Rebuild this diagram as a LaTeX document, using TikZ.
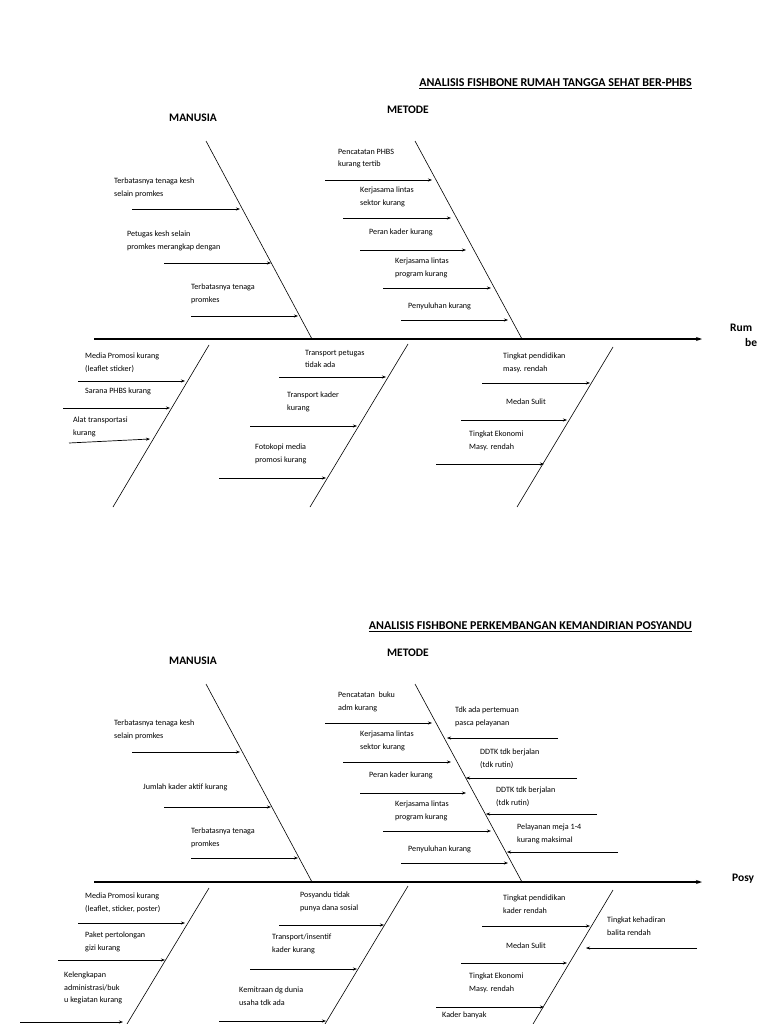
\documentclass[tikz,border=0pt]{standalone}
\usepackage{fontspec}
\setmainfont{Carlito}
\usetikzlibrary{arrows.meta}
\begin{document}
\begin{tikzpicture}[x=1pt,y=-1pt,
  lbl/.style={anchor=north west,inner sep=0pt,align=left,font=\fontsize{8.1}{12.5}\selectfont},
  hd/.style={inner sep=0pt,font=\fontsize{11.5}{13}\selectfont\bfseries},
  bone/.style={line width=0.6pt},
  arr/.style={line width=0.7pt,-{Stealth[length=4pt,width=3pt]}},
  larr/.style={line width=0.45pt,-{Stealth[length=4pt,width=3pt]}},
  spine/.style={line width=1.3pt,-{Stealth[length=6pt,width=4pt]}}]
\useasboundingbox (0,0) rectangle (768,1024);
\clip (0,0) rectangle (768,1024);
% ===== Diagram 1 =====
\node[hd,anchor=east,font=\fontsize{12}{13}\selectfont\bfseries] (t1) at (692,84) {\underline{ANALISIS FISHBONE RUMAH TANGGA SEHAT BER-PHBS}};
\node[hd] (m1) at (408,110) {METODE};
\node[hd] (h1) at (193,118) {MANUSIA};
\draw[spine] (94,339) -- (702,339);
\node[hd,anchor=north west,align=left,font=\fontsize{11.5}{15}\selectfont\bfseries] (e1) at (730,324) {Rum\\\hspace*{15pt}be};
\draw[bone] (206,141) -- (312,339);
\draw[bone] (415,141) -- (522,339);
\draw[bone] (113,507) -- (209,345);
\draw[bone] (310,507) -- (408,344);
\draw[bone] (517,507) -- (613,347);
% bone1
\draw[arr] (132,209) -- (240,209); \node[lbl] at (114,178) {Terbatasnya tenaga kesh\\selain promkes};
\draw[arr] (164,263) -- (271,263); \node[lbl] at (127,231) {Petugas kesh selain\\promkes merangkap dengan};
\draw[arr] (191,316) -- (298,316); \node[lbl] at (191,284) {Terbatasnya tenaga\\promkes};
% bone2
\draw[arr] (325,180) -- (432,180); \node[lbl] at (338,149) {Pencatatan PHBS\\kurang tertib};
\draw[arr] (343,218) -- (451,218); \node[lbl] at (360,187) {Kerjasama lintas\\sektor kurang};
\draw[arr] (360,250) -- (466,250); \node[lbl] at (369,229) {Peran kader kurang};
\draw[arr] (383,288) -- (491,288); \node[lbl] at (395,258) {Kerjasama lintas\\program kurang};
\draw[arr] (401,320) -- (508,320); \node[lbl] at (408,303) {Penyuluhan kurang};
% bone3
\draw[arr] (78,381) -- (185,381); \node[lbl] at (85,353) {Media Promosi kurang\\(leaflet sticker)};
\draw[arr] (63,408) -- (170,408); \node[lbl] at (85,388) {Sarana PHBS kurang};
\draw[arr] (69,443) -- (150,439); \node[lbl] at (73,417) {Alat transportasi\\kurang};
% bone4
\draw[arr] (279,377) -- (386,377); \node[lbl] at (305,350) {Transport petugas\\tidak ada};
\draw[arr] (250,426) -- (357,426); \node[lbl] at (287,392) {Transport kader\\kurang};
\draw[arr] (219,478) -- (326,478); \node[lbl] at (255,444) {Fotokopi media\\promosi kurang};
% bone5
\draw[arr] (482,383) -- (590,383); \node[lbl] at (503,353) {Tingkat pendidikan\\masy. rendah};
\draw[arr] (461,420) -- (567,420); \node[lbl] at (506,399) {Medan Sulit};
\draw[arr] (436,464) -- (544,464); \node[lbl] at (469,431) {Tingkat Ekonomi\\Masy. rendah};
% ===== Diagram 2 =====
\node[hd,anchor=east,font=\fontsize{12}{13}\selectfont\bfseries] (t2) at (692,627) {\underline{ANALISIS FISHBONE PERKEMBANGAN KEMANDIRIAN POSYANDU}};
\node[hd] (m2) at (408,653) {METODE};
\node[hd] (h2) at (193,661) {MANUSIA};
\draw[spine] (94,882) -- (702,882);
\node[hd,anchor=west] (e2) at (732,879) {Posy};
\draw[bone] (206,684) -- (312,882);
\draw[bone] (415,684) -- (522,882);
\draw[bone] (127,1024) -- (209,888);
\draw[bone] (325,1024) -- (408,886);
\draw[bone] (533,1024) -- (613,890);
% bone1
\draw[arr] (132,752) -- (240,752); \node[lbl] at (114,720) {Terbatasnya tenaga kesh\\selain promkes};
\draw[arr] (164,807) -- (271,807); \node[lbl] at (143,784) {Jumlah kader aktif kurang};
\draw[arr] (191,858) -- (298,858); \node[lbl] at (191,828) {Terbatasnya tenaga\\promkes};
% bone2
\draw[arr] (325,723) -- (432,723); \node[lbl] at (338,692) {Pencatatan\ \ buku\\adm kurang};
\draw[arr] (343,762) -- (451,762); \node[lbl] at (360,731) {Kerjasama lintas\\sektor kurang};
\draw[arr] (360,793) -- (466,793); \node[lbl] at (369,772) {Peran kader kurang};
\draw[arr] (383,831) -- (491,831); \node[lbl] at (395,801) {Kerjasama lintas\\program kurang};
\draw[arr] (401,863) -- (508,863); \node[lbl] at (408,846) {Penyuluhan kurang};
\draw[larr] (558,738) -- (447,738); \node[lbl] at (455,707) {Tdk ada pertemuan\\pasca pelayanan};
\draw[larr] (577,778) -- (466,778); \node[lbl] at (480,749) {DDTK tdk berjalan\\(tdk rutin)};
\draw[larr] (597,814) -- (486,814); \node[lbl] at (496,787) {DDTK tdk berjalan\\(tdk rutin)};
\draw[larr] (618,852) -- (507,852); \node[lbl] at (517,824) {Pelayanan meja 1-4\\kurang maksimal};
% bone3
\draw[arr] (78,923) -- (185,923); \node[lbl] at (85,893) {Media Promosi kurang\\(leaflet, sticker, poster)};
\draw[arr] (58,960) -- (165,960); \node[lbl] at (85,932) {Paket pertolongan\\gizi kurang};
\draw[arr] (20,1022) -- (123,1022); \node[lbl] at (64,972) {Kelengkapan\\administrasi/buk\\u kegiatan kurang};
% bone4
\draw[arr] (279,925) -- (384,925); \node[lbl] at (300,892) {Posyandu tidak\\punya dana sosial};
\draw[arr] (250,969) -- (357,969); \node[lbl] at (272,934) {Transport/insentif\\kader kurang};
\draw[arr] (219,1021) -- (326,1021); \node[lbl] at (239,987) {Kemitraan dg dunia\\usaha tdk ada};
% bone5
\draw[arr] (482,926) -- (590,926); \node[lbl] at (503,895) {Tingkat pendidikan\\kader rendah};
\draw[arr] (461,963) -- (567,963); \node[lbl] at (506,943) {Medan Sulit};
\draw[arr] (436,1007) -- (544,1007); \node[lbl] at (469,973) {Tingkat Ekonomi\\Masy. rendah};
\node[lbl] at (442,1012) {Kader banyak};
\draw[larr] (697,948) -- (586,948); \node[lbl] at (607,917) {Tingkat kehadiran\\balita rendah};
\end{tikzpicture}
\end{document}
